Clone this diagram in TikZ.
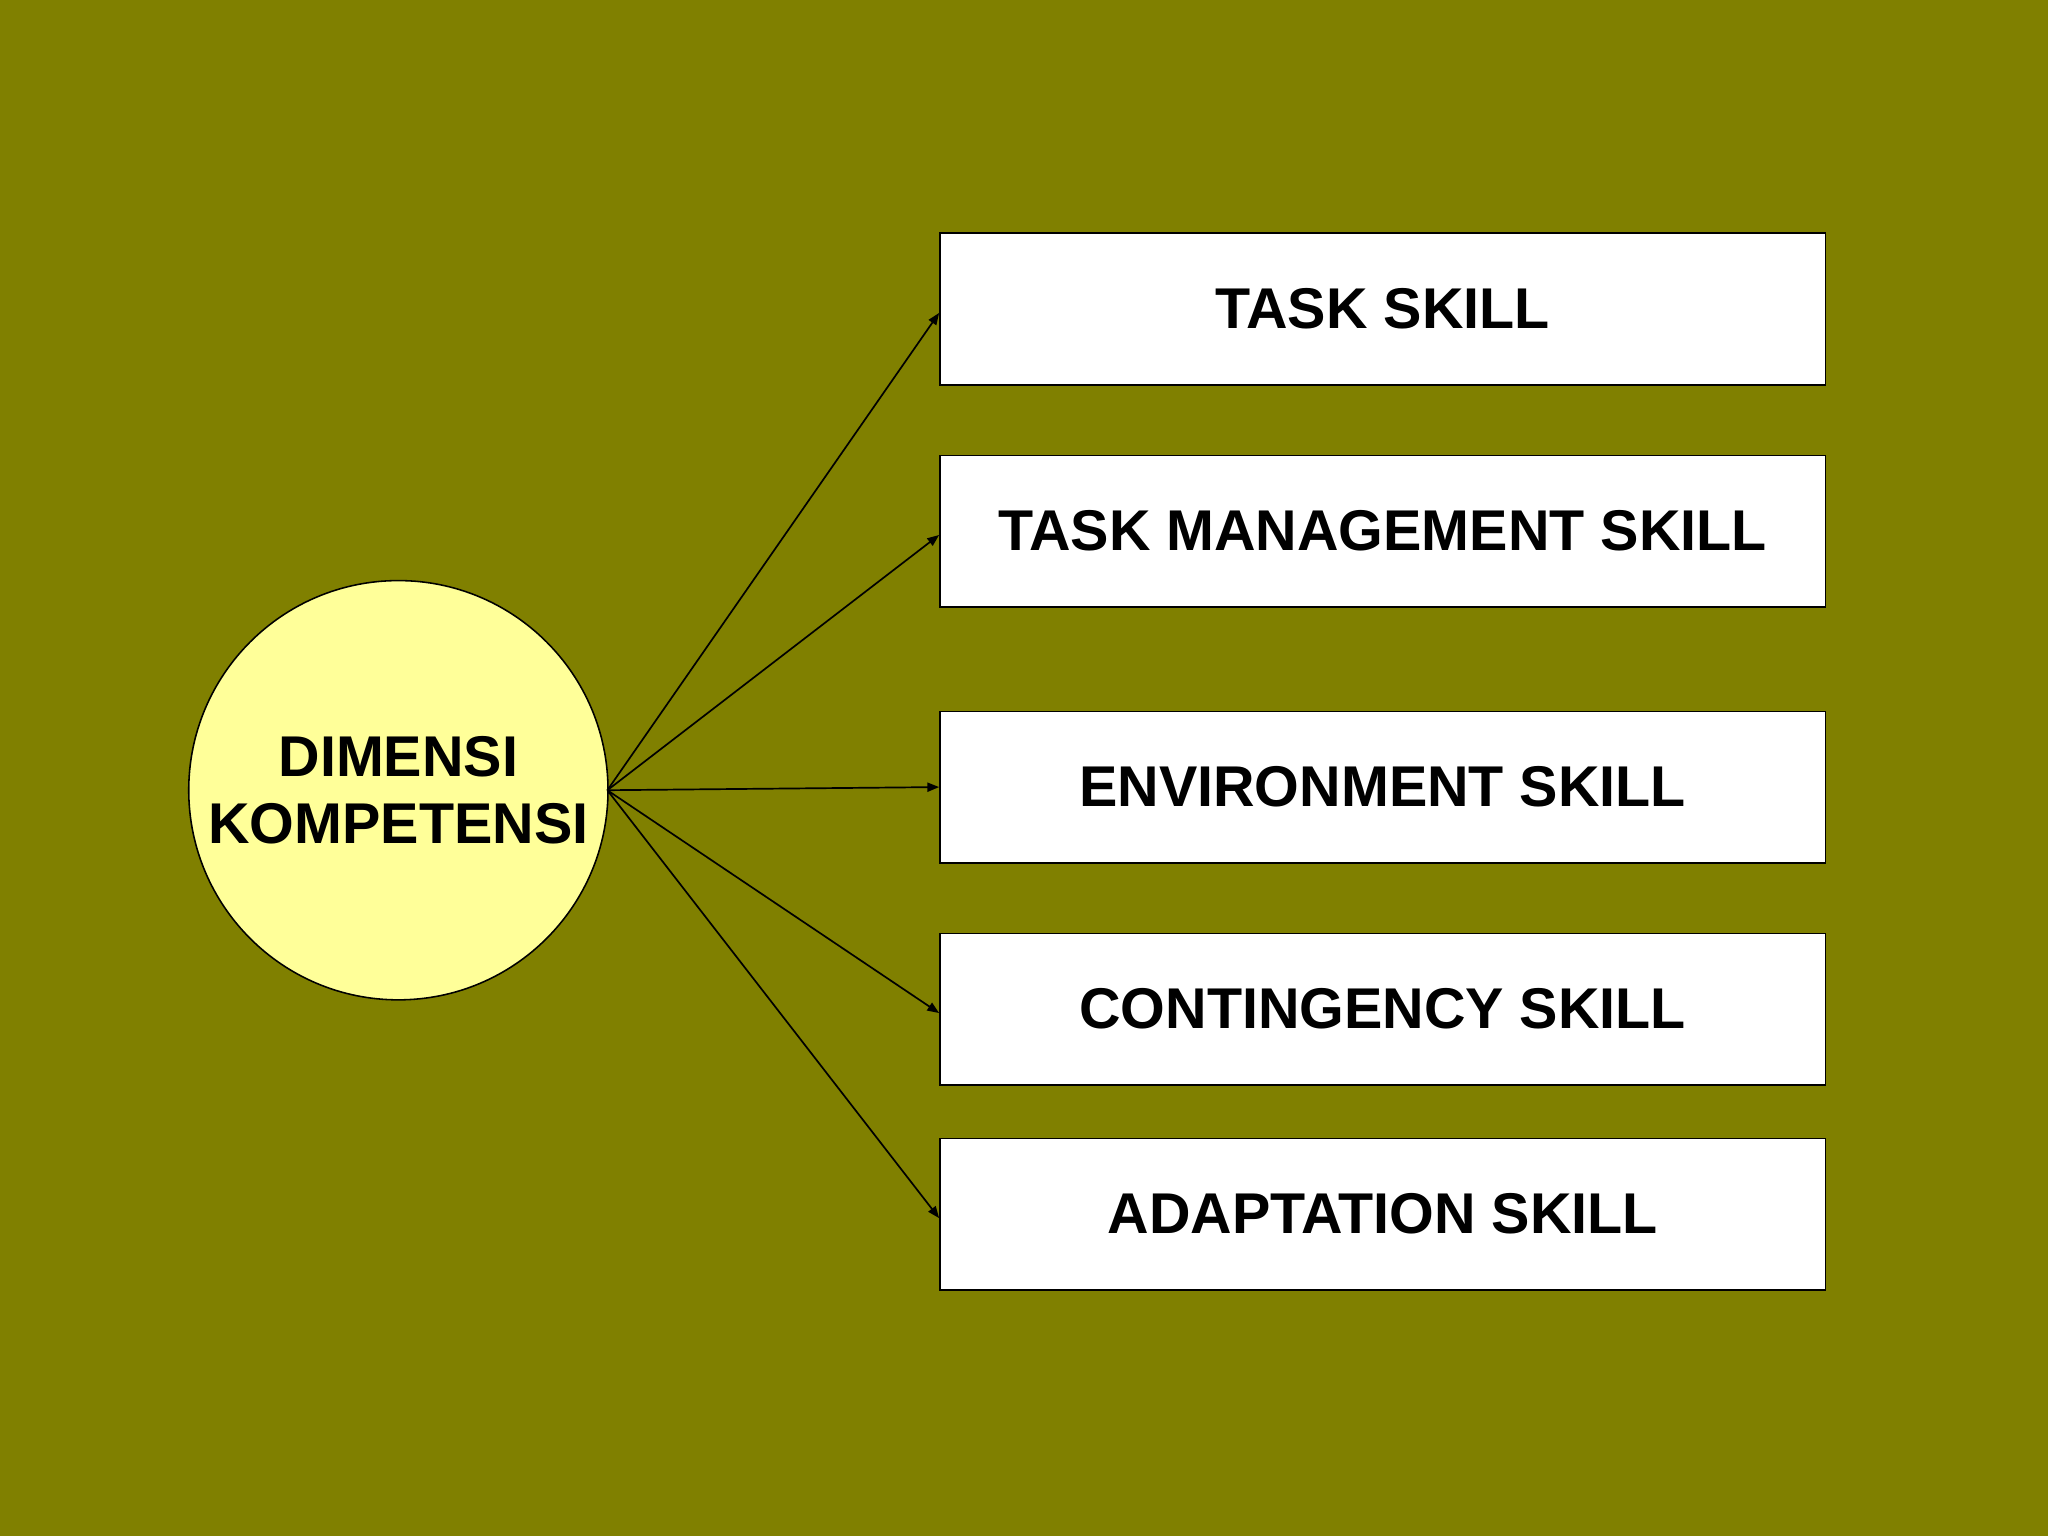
\documentclass[tikz,border=0pt]{standalone}
\usepackage{fontspec}
\setmainfont{Liberation Sans}
\usetikzlibrary{arrows.meta}
\begin{document}
\begin{tikzpicture}[x=1pt,y=-1pt,
  box/.style={draw=black,line width=1.2pt,fill=white,minimum width=678pt,minimum height=116pt,font=\fontsize{44}{50}\selectfont\bfseries,anchor=north west,inner sep=0pt},
  arr/.style={line width=1.3pt,-{Triangle[length=9pt,width=7pt]}}]
\fill[fill={rgb,255:red,128;green,128;blue,0}] (0,0) rectangle (1568,1176);
\useasboundingbox (0,0) rectangle (1568,1176);
\node[circle,draw=black,line width=1.2pt,fill={rgb,255:red,255;green,255;blue,153},minimum size=321pt,inner sep=0pt,align=center,font=\fontsize{44}{52}\selectfont\bfseries] (c) at (305,605) {DIMENSI\\KOMPETENSI};
\coordinate (o) at (465,605);
\node[box] (b1) at (719,178) {TASK SKILL};
\node[box] (b2) at (719,348) {TASK MANAGEMENT SKILL};
\node[box] (b3) at (719,544) {ENVIRONMENT SKILL};
\node[box] (b4) at (719,714) {CONTINGENCY SKILL};
\node[box] (b5) at (719,871) {ADAPTATION SKILL};
\draw[arr] (o) -- ([yshift=-3pt]b1.west);
\draw[arr] (o) -- ([yshift=-3pt]b2.west);
\draw[arr] (o) -- (b3.west);
\draw[arr] (o) -- ([yshift=-3pt]b4.west);
\draw[arr] (o) -- ([yshift=-3pt]b5.west);
\end{tikzpicture}
\end{document}
